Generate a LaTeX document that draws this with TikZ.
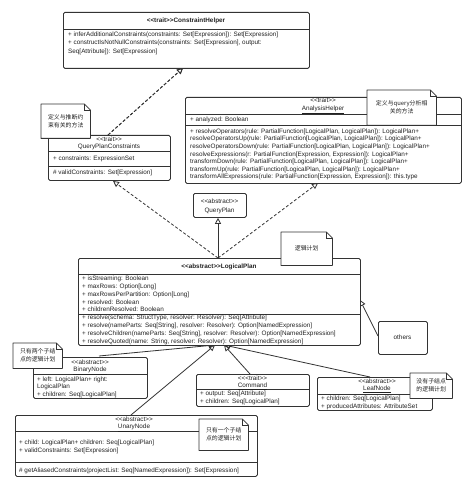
\documentclass[tikz,border=0pt]{standalone}
\usepackage{fontspec}
\setmainfont{Liberation Sans}[Ligatures=TeXOff]
\newfontfamily\cjk{Noto Sans CJK SC}[Ligatures=TeXOff]
\usetikzlibrary{arrows.meta}
\definecolor{lc}{HTML}{333333}
\definecolor{tc}{HTML}{222222}
\newcommand\mytl[4]{\node[txt,anchor=west] (#1) at (#2,#3) {#4};}
\newcommand\mytc[4]{\node[txt] (#1) at (#2,#3) {#4};}
\newcommand\mydiv[2]{\draw[lc,line width=0.8pt] (#1.west |- 0,#2) -- (#1.east |- 0,#2);}
\newcommand\mynotepath[1]{%
  \draw[lc,line width=0.8pt,line join=round] (#1.south west) -- (#1.north west) -- ([xshift=-6pt]#1.north east) -- ([yshift=-6pt]#1.north east) -- (#1.south east) -- cycle;
  \draw[lc,line width=0.6pt] ([xshift=-6pt]#1.north east) -- ([xshift=-6pt,yshift=-6pt]#1.north east) -- ([yshift=-6pt]#1.north east);}
\begin{document}
\begin{tikzpicture}[x=1pt,y=-1pt,
  box/.style={draw=lc,line width=0.8pt,rounded corners=1.5pt,fill=white,inner sep=0,anchor=north west},
  note/.style={fill=white,inner sep=0,anchor=north west,align=center,text=tc,
    font=\cjk\fontsize{5.9}{8}\selectfont},
  txt/.style={inner sep=0,text height=4.6pt,text depth=1.4pt,font=\fontsize{6.35}{7.5}\selectfont,text=tc},
  gen/.style={draw=lc,line width=0.8pt,-{Triangle[open,length=6pt,width=6pt]}},
  real/.style={gen,dash pattern=on 3pt off 2pt}]
\useasboundingbox (0,0) rectangle (474,489);
\fill[white] (0,0) rectangle (474,489);

% connector coordinates
\coordinate (lpT) at (218,258);
\coordinate (ahB) at (318,183);
\coordinate (qpcB) at (113,181);
\coordinate (chB) at (183,68);
\coordinate (qpcT) at (108,135);
\coordinate (lpB1) at (215,345);
\coordinate (lpB2) at (224,345);
\coordinate (lpR) at (360,300);
\coordinate (bnT) at (99,356);
\coordinate (unT) at (131,415);
\coordinate (cmdT) at (250,374);
\coordinate (lfT) at (370,377);
\coordinate (otL) at (378,336);

% connectors
\draw[real] (qpcT) -- (chB);
\draw[real] (lpT) -- (ahB);
\draw[real] (lpT) -- (qpcB);
\draw[gen] (bnT) -- (lpB1);
\draw[gen] (unT) -- (lpB1);
\draw[gen] (cmdT) -- (lpB2);
\draw[gen] (lfT) -- (lpB2);
\draw[gen] (otL) -- (lpR);

% ConstraintHelper
\node[box,minimum width=246pt,minimum height=56pt] (ch) at (63,12) {};
\mydiv{ch}{29}
\mytc{ch0}{186}{21}{\textbf{<<trait>>ConstraintHelper}}
\mytl{ch1}{68}{34.5}{+ inferAdditionalConstraints(constraints: Set[Expression]): Set[Expression]}
\mytl{ch2}{68}{43}{+ constructIsNotNullConstraints(constraints: Set[Expression], output:}
\mytl{ch3}{68}{51.5}{Seq[Attribute]): Set[Expression]}

% QueryPlanConstraints
\node[box,minimum width=122pt,minimum height=45pt] (qpc) at (48,135) {};
\mydiv{qpc}{151}
\mydiv{qpc}{166}
\mytc{qpc0}{109}{140}{<<trait>>}
\mytc{qpc1}{109}{147}{\underline{QueryPlanConstraints}}
\mytl{qpc2}{53}{159}{+ constraints: ExpressionSet}
\mytl{qpc3}{53}{173}{\# validConstraints: Set[Expression]}
\draw[real] (qpcT) -- (chB);

% AnalysisHelper
\node[box,minimum width=276pt,minimum height=86pt] (ah) at (185,97) {};
\mydiv{ah}{114}
\mydiv{ah}{125}
\mytc{ah0}{323}{101}{<<trait>>}
\mytc{ah1}{323}{109}{\underline{AnalysisHelper}}
\mytl{ah2}{190}{120}{+ analyzed: Boolean}
\mytl{ah3}{190}{131.7}{+ resolveOperators(rule: PartialFunction[LogicalPlan, LogicalPlan]): LogicalPlan+}
\mytl{ah4}{190}{139.3}{resolveOperatorsUp(rule: PartialFunction[LogicalPlan, LogicalPlan]): LogicalPlan+}
\mytl{ah5}{190}{146.9}{resolveOperatorsDown(rule: PartialFunction[LogicalPlan, LogicalPlan]): LogicalPlan+}
\mytl{ah6}{190}{154.5}{resolveExpressions(r: PartialFunction[Expression, Expression]): LogicalPlan+}
\mytl{ah7}{190}{162.1}{transformDown(rule: PartialFunction[LogicalPlan, LogicalPlan]): LogicalPlan+}
\mytl{ah8}{190}{169.7}{transformUp(rule: PartialFunction[LogicalPlan, LogicalPlan]): LogicalPlan+}
\mytl{ah9}{190}{177.3}{transformAllExpressions(rule: PartialFunction[Expression, Expression]): this.type}

% QueryPlan
\node[box,minimum width=53pt,minimum height=24pt] (qp) at (193,193) {};
\mytc{qp0}{219.5}{202}{<<abstract>>}
\mytc{qp1}{219.5}{210.5}{QueryPlan}
\draw[gen] (lpT) -- (lpT |- qp.south);

% LogicalPlan
\node[box,minimum width=282pt,minimum height=87pt] (lp) at (78,258) {};
\mydiv{lp}{274}
\mydiv{lp}{314}
\mytc{lp0}{219}{266.5}{\textbf{<<abstract>>LogicalPlan}}
\mytl{lp1}{82}{279}{+ isStreaming: Boolean}
\mytl{lp2}{82}{287}{+ maxRows: Option[Long]}
\mytl{lp3}{82}{294.7}{+ maxRowsPerPartition: Option[Long]}
\mytl{lp4}{82}{302.4}{+ resolved: Boolean}
\mytl{lp5}{82}{310}{+ childrenResolved: Boolean}
\mytl{lp6}{82}{318}{+ resolve(schema: StructType, resolver: Resolver): Seq[Attribute]}
\mytl{lp7}{82}{326}{+ resolve(nameParts: Seq[String], resolver: Resolver): Option[NamedExpression]}
\mytl{lp8}{82}{334}{+ resolveChildren(nameParts: Seq[String], resolver: Resolver): Option[NamedExpression]}
\mytl{lp9}{82}{341.7}{+ resolveQuoted(name: String, resolver: Resolver): Option[NamedExpression]}

% others
\node[box,minimum width=49pt,minimum height=33pt] (ot) at (378,321) {};
\mytc{ot0}{402.5}{337.5}{others}

% BinaryNode
\node[box,minimum width=114pt,minimum height=41pt] (bn) at (33,357) {};
\mydiv{bn}{374}
\mytc{bn0}{90}{363}{<<abstract>>}
\mytc{bn1}{90}{370}{\underline{BinaryNode}}
\mytl{bn2}{37}{379.5}{+ left: LogicalPlan+ right:}
\mytl{bn3}{37}{387.3}{LogicalPlan}
\mytl{bn4}{37}{395}{+ children: Seq[LogicalPlan]}

% Command
\node[box,minimum width=113pt,minimum height=32pt] (cmd) at (196,374) {};
\mydiv{cmd}{389}
\mytc{cmd0}{252.5}{379}{<<<trait>>}
\mytc{cmd1}{252.5}{385.8}{\underline{Command}}
\mytl{cmd2}{200}{394.3}{+ output: Seq[Attribute]}
\mytl{cmd3}{200}{401.8}{+ children: Seq[LogicalPlan]}

% LeafNode
\node[box,minimum width=115pt,minimum height=33pt] (lf) at (317,377) {};
\mydiv{lf}{394}
\mytc{lf0}{377}{382}{<<abstract>>}
\mytc{lf1}{377}{389}{\underline{LeafNode}}
\mytl{lf2}{321}{399}{+ children: Seq[LogicalPlan]}
\mytl{lf3}{321}{407}{+ producedAttributes: AttributeSet}

% UnaryNode
\node[box,minimum width=242pt,minimum height=61pt] (un) at (15,415) {};
\mydiv{un}{431}
\mydiv{un}{462}
\mytc{un0}{134}{419.5}{<<abstract>>}
\mytc{un1}{134}{426.5}{\underline{UnaryNode}}
\mytl{un2}{19}{443}{+ child: LogicalPlan+ children: Seq[LogicalPlan]}
\mytl{un3}{19}{450.5}{+ validConstraints: Set[Expression]}
\mytl{un4}{19}{470.5}{\# getAliasedConstraints(projectList: Seq[NamedExpression]): Set[Expression]}

% notes
\node[note,minimum width=49pt,minimum height=34pt] (qpcN) at (41,104) {定义与推断约\\束有关的方法};
\mynotepath{qpcN}
\node[note,minimum width=69pt,minimum height=35pt] (ahN) at (367,90) {定义与query分析相\\关的方法};
\mynotepath{ahN}
\node[note,minimum width=51pt,minimum height=33pt] (lpN) at (281,232) {逻辑计划};
\mynotepath{lpN}
\node[note,minimum width=49pt,minimum height=25pt] (bnN) at (13,343) {只有两个子结\\点的逻辑计划};
\mynotepath{bnN}
\node[note,minimum width=42pt,minimum height=25pt] (lfN) at (410,373) {没有子结点\\的逻辑计划};
\mynotepath{lfN}
\node[note,minimum width=49pt,minimum height=31pt] (unN) at (199,419) {只有一个子结\\点的逻辑计划};
\mynotepath{unN}
\end{tikzpicture}
\end{document}
